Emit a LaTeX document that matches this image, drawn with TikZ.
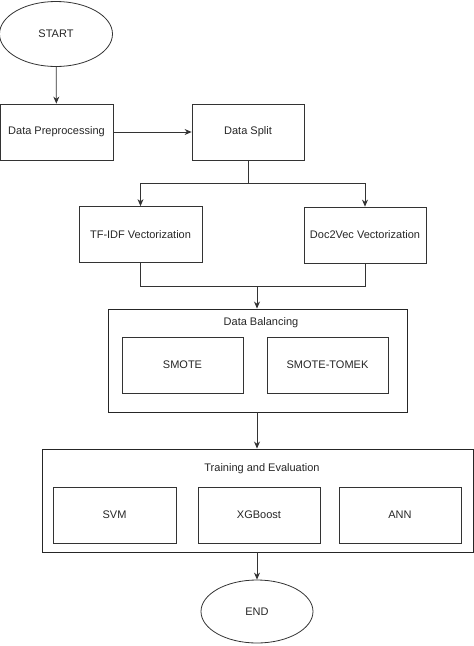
\documentclass[tikz,border=0pt]{standalone}
\usepackage{fontspec}
\setmainfont{Liberation Sans}
\usepackage{tikz}
\usetikzlibrary{shapes.geometric}
\usetikzlibrary{arrows.meta}
\usetikzlibrary{calc}

\begin{document}
\begin{tikzpicture}[x=1pt, y=-1pt, every node/.style={font=\fontsize{11}{13}\selectfont, text=black!85}, every path/.style={line width=0.8pt}, line/.style={draw=black!80}, box/.style={draw=black!80, rectangle, minimum width=122pt, minimum height=56pt, inner sep=0pt}, oval/.style={draw=black!80, ellipse, minimum width=113pt, minimum height=65pt, inner sep=0pt}, group/.style={draw=black!85, rectangle, line width=0.95pt, minimum height=103pt, inner sep=0pt}, arr/.style={line, -{Stealth[length=7pt, width=6pt]}}]
\useasboundingbox (0,0) rectangle (474,646);

\coordinate (S) at (56,34);
\coordinate (P) at (56.5,132);
\coordinate (T) at (248,132);
\coordinate (F) at (140.5,234.5);
\coordinate (V) at (365,235);
\coordinate (B) at (257.5,360.5);
\coordinate (M) at (182.5,365);
\coordinate (K) at (327.5,365);
\coordinate (E) at (257.5,500.5);
\coordinate (Q) at (114.5,515);
\coordinate (X) at (259,515);
\coordinate (A) at (400,515);
\coordinate (N) at (257,611.5);
\coordinate (J1) at (248,183); % split
\coordinate (J2) at (257,286); % join

\node[oval] (start) at (S) {START};
\node[box, minimum width=113pt] (prep) at (P) {Data Preprocessing};
\node[box, minimum width=112pt] (split) at (T) {Data Split};
\node[box, minimum width=123pt] (tfidf) at (F) {TF-IDF Vectorization};
\node[box] (d2v) at (V) {Doc2Vec Vectorization};
%
\node[group, minimum width=299pt] (bal) at (B) {};
\node (ballabel) at (261,323) {Data Balancing};
\node[box, minimum width=121pt] (smote) at (M) {SMOTE};
\node[box, minimum width=121pt] (tomek) at (K) {SMOTE-TOMEK};
%
\node[group, minimum width=431pt] (train) at (E) {};
\node (trainlabel) at (262,469) {Training and Evaluation};
\node[box, minimum width=123pt] (svm) at (Q) {SVM};
\node[box] (xgb) at (X) {XGBoost};
\node[box] (ann) at (A) {ANN};
%
\node[oval, minimum width=112pt, minimum height=63pt] (end) at (N) {END};

\draw[arr] (start) -- (prep); %1
\draw[arr] (prep) -- (split); %2
\draw[line] (split) -- (J1); %3
\draw[arr] (J1) -| (tfidf);
\draw[arr] (J1) -| (d2v);
%
\draw[line] (tfidf) |- (J2); %4
\draw[line] (d2v) |- (J2);
\draw[arr] (J2) -- (J2 |- bal.north);
%
\draw[arr] (bal.south -| J2) -- (J2 |- train.north); %5
\draw[arr] (train.south -| J2) -- (end); %6
\end{tikzpicture}
\end{document}
